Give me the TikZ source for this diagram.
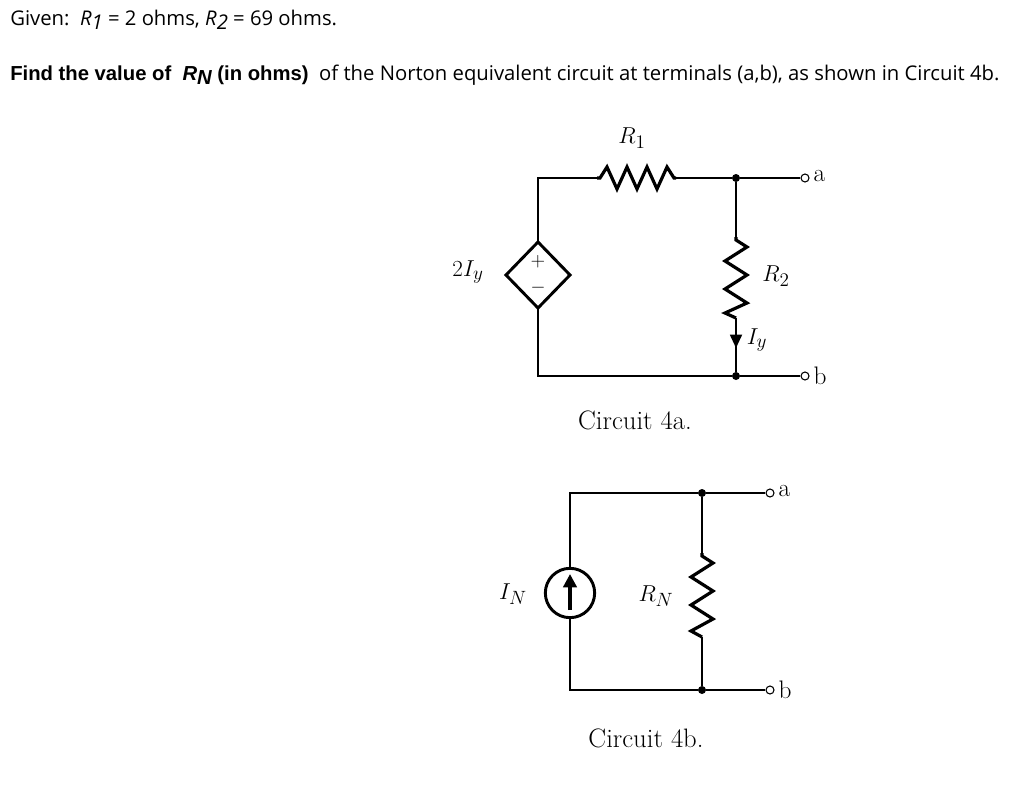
\documentclass[tikz,border=0pt]{standalone}
\usepackage{fontspec}
\setsansfont{Open Sans}
\newfontfamily\arialf{Liberation Sans}
\usetikzlibrary{arrows.meta}
\begin{document}
\begin{tikzpicture}[x=0.75pt,y=-0.75pt,
  wire/.style={line width=1.3pt},
  res/.style={line width=2.4pt,line join=miter},
  dot/.style={circle,fill,inner sep=0pt,minimum size=6pt},
  term/.style={circle,draw,line width=0.8pt,fill=white,inner sep=0pt,minimum size=6pt},
  lbl/.style={font=\fontsize{19}{22}\selectfont},
  hdr/.style={anchor=west,inner sep=0pt,font=\sffamily\fontsize{15.2}{18}\selectfont}]
\useasboundingbox (0,0) rectangle (1024,785);
% header
\node[hdr] (g) at (10,20) {Given:\ \ \textit{R\raisebox{-0.35ex}{1}} = 2 ohms, \textit{R\raisebox{-0.35ex}{2}} = 69 ohms.};
\node[hdr] (f) at (10,75) {{\arialf\bfseries Find the value of\ \ \textit{R\raisebox{-0.35ex}{N}} (in ohms)}\ \ of the Norton equivalent circuit at terminals (a,b), as shown in Circuit 4b.};
% Circuit 4a
\coordinate (tl) at (538,178); \coordinate (bl) at (538,376);
\node[dot] (na) at (736,178) {}; \node[dot] (nb) at (736,376) {};
\node[term] (ta) at (805,178) {}; \node[term] (tb) at (805,376) {};
\node[minimum width=48pt,minimum height=50pt,inner sep=0pt] (src) at (538,275) {};
\draw[line width=2.2pt] (506,275) -- (538,242) -- (570,275) -- (538,308) -- cycle;
\node[font=\Large] (pl) at (538,262) {$+$};
\node[font=\Large] (mi) at (538,288) {$-$};
\draw[wire] (538,242) -- (tl) -- (597,178);
\draw[res] (597,178) -- (600,178) -- (607,167) -- (617,189) -- (627,167) -- (637,189) -- (647,167) -- (657,189) -- (667,167) -- (674,178) -- (676,178);
\draw[wire] (676,178) -- (na) -- (ta);
\draw[wire] (538,308) -- (bl) -- (nb) -- (tb);
\draw[wire] (na) -- (736,237);
\draw[res] (736,237) -- (736,240) -- (747,247) -- (725,261) -- (747,275) -- (725,289) -- (747,303) -- (725,313) -- (736,318);
\draw[wire] (736,318) -- (nb);
\draw[-{Triangle[length=10pt,width=9pt]},wire] (736,320) -- (736,348);
\node[lbl] (r1) at (632,138) {$R_1$};
\node[lbl] (dep) at (468,272) {$2I_y$};
\node[lbl] (r2) at (776,276) {$R_2$};
\node[lbl] (iy) at (757,340) {$I_y$};
\node[lbl,anchor=west] (la) at (809,176) {a};
\node[lbl,anchor=west] (lb) at (809,376) {b};
\node[font=\fontsize{20}{24}\selectfont] (c4a) at (635,420) {Circuit 4a.};
% Circuit 4b
\coordinate (tl2) at (570,493); \coordinate (bl2) at (570,690);
\node[dot] (na2) at (702,493) {}; \node[dot] (nb2) at (702,690) {};
\node[term] (ta2) at (770,493) {}; \node[term] (tb2) at (770,690) {};
\node[draw,circle,line width=2.2pt,minimum size=37pt,inner sep=0pt] (cs) at (570,593) {};
\draw[line width=2.4pt,-{Triangle[length=10pt,width=10pt]}] (570,610) -- (570,574);
\draw[wire] (cs.north) -- (tl2) -- (na2) -- (ta2);
\draw[wire] (cs.south) -- (bl2) -- (nb2) -- (tb2);
\draw[wire] (na2) -- (702,553);
\draw[res] (702,553) -- (702,556) -- (713,563) -- (691,577) -- (713,591) -- (691,605) -- (713,619) -- (691,631) -- (702,637);
\draw[wire] (702,637) -- (nb2);
\node[lbl] (in) at (513,594) {$I_N$};
\node[lbl] (rn) at (656,596) {$R_N$};
\node[lbl,anchor=west] (la2) at (774,491) {a};
\node[lbl,anchor=west] (lb2) at (774,690) {b};
\node[font=\fontsize{20}{24}\selectfont] (c4b) at (646,738) {Circuit 4b.};
\end{tikzpicture}
\end{document}
